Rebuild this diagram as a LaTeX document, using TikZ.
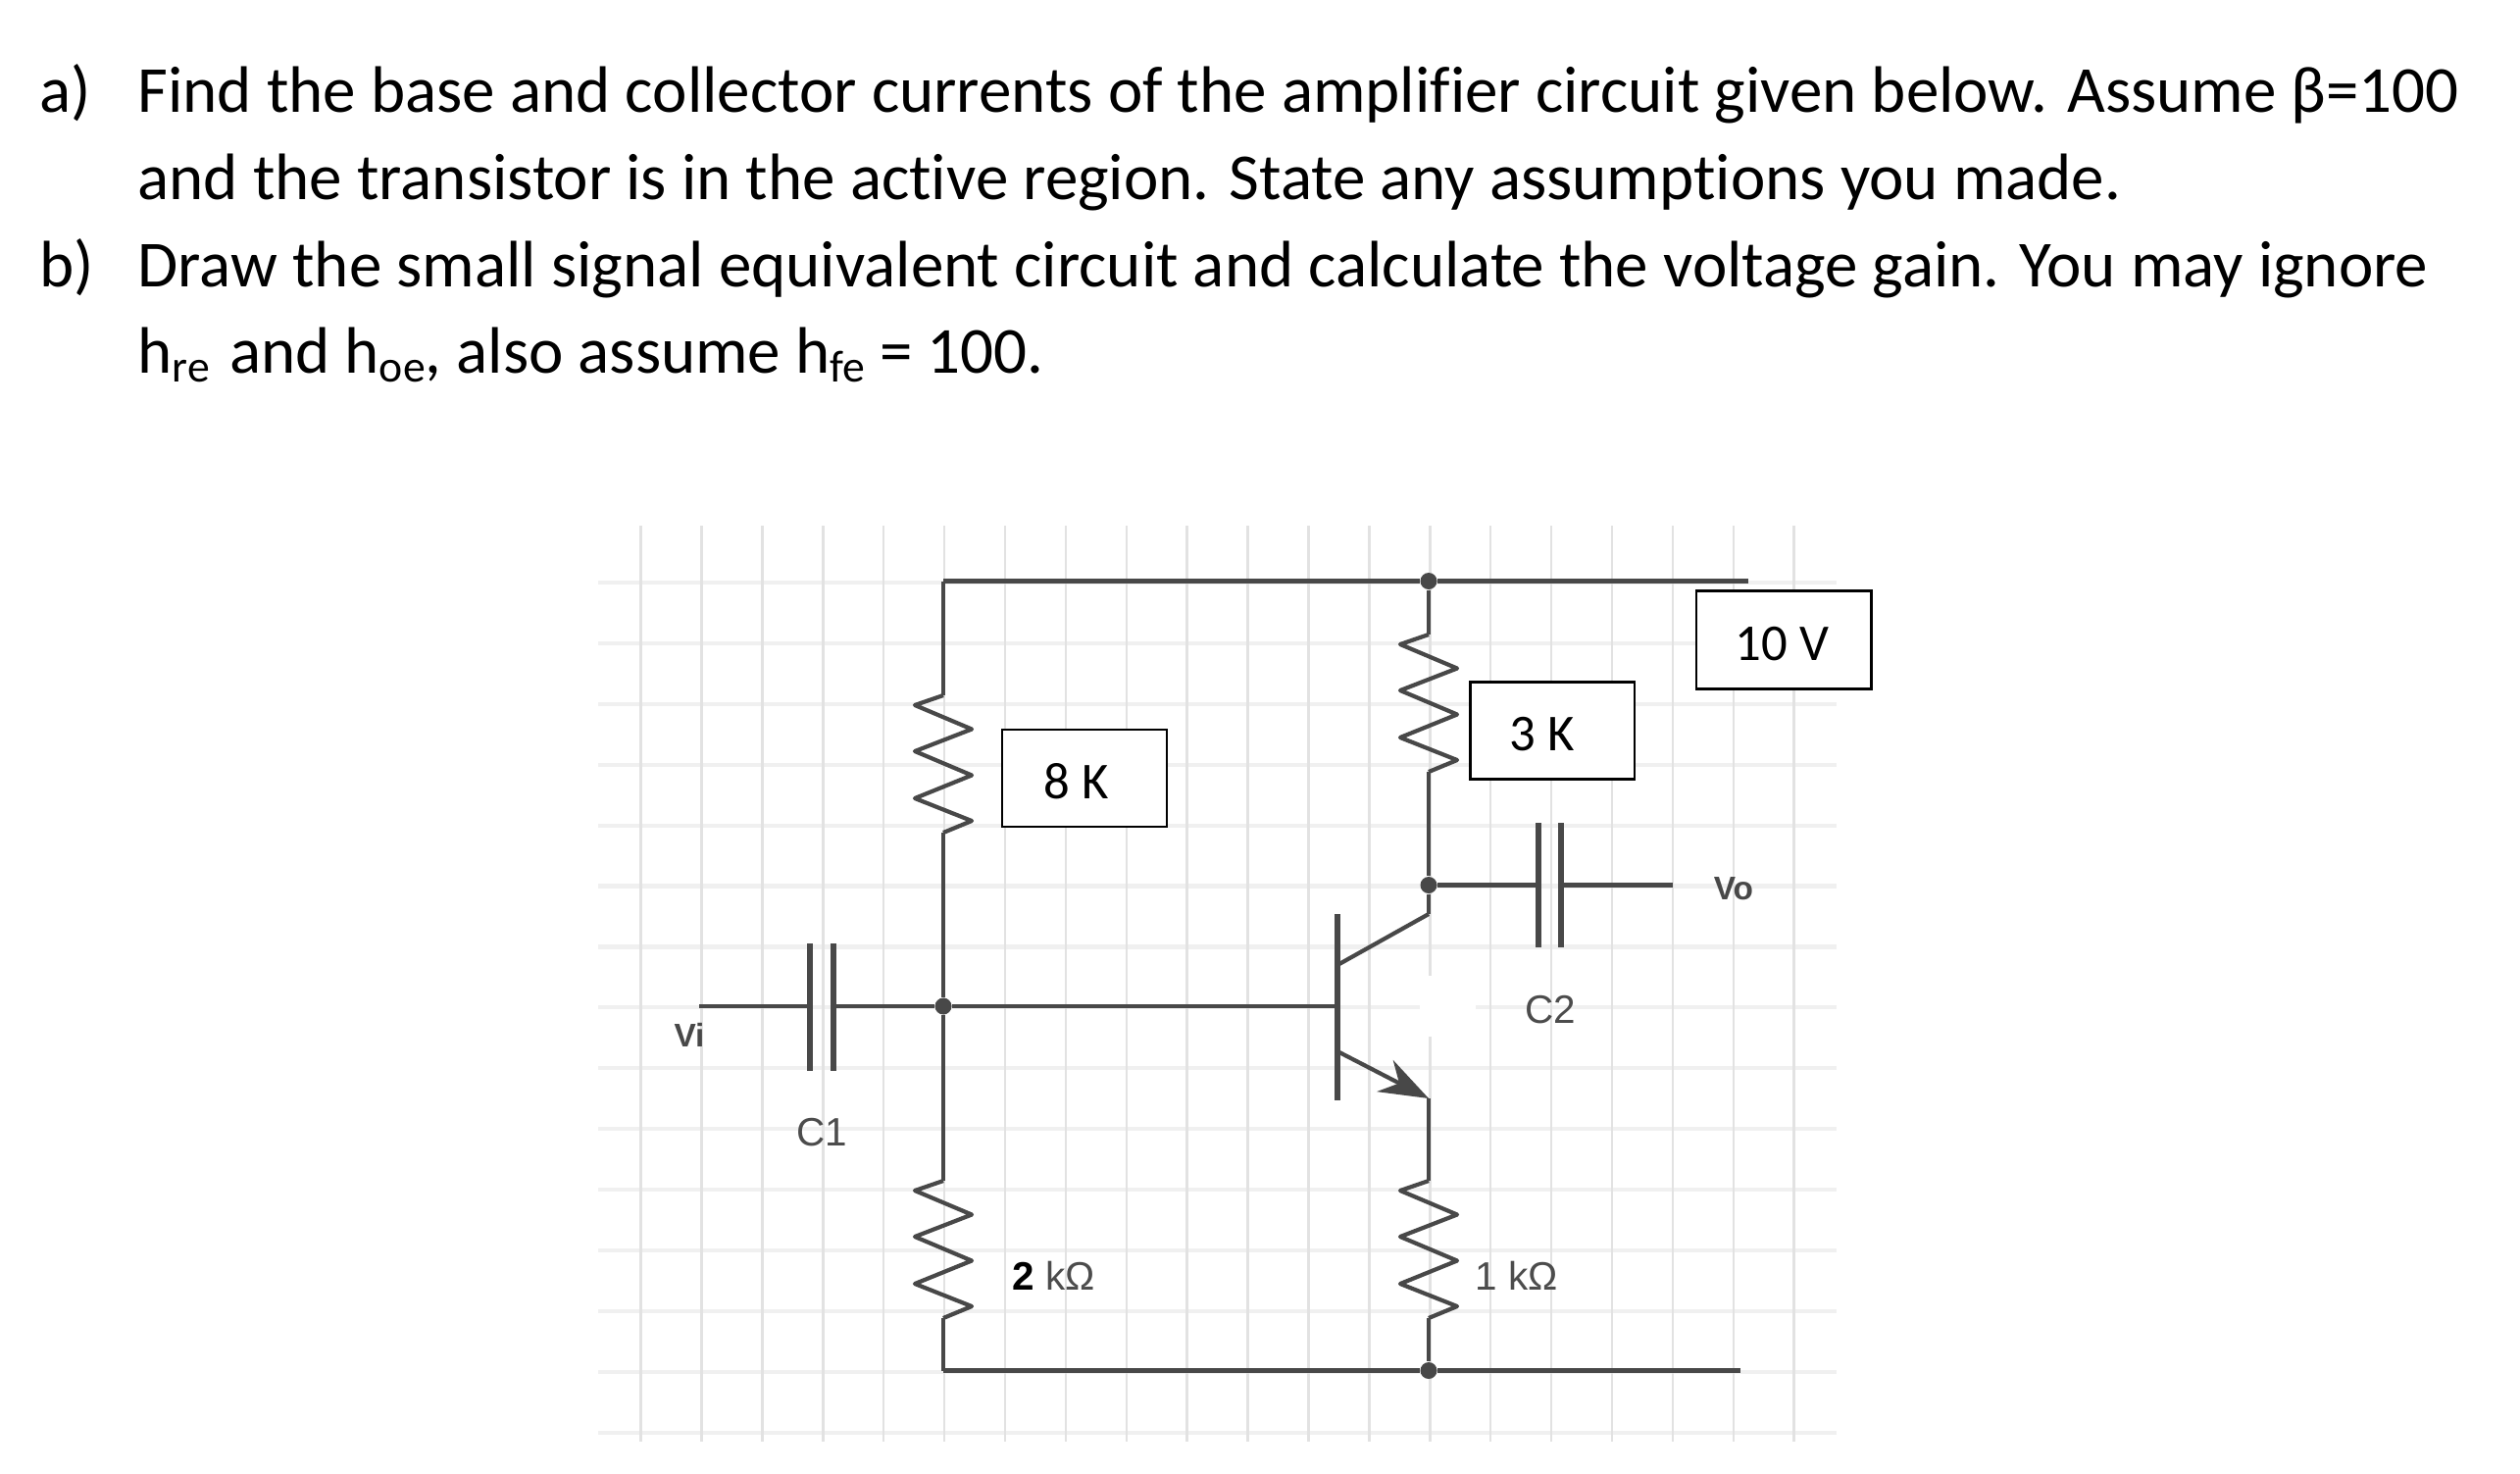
\documentclass[tikz,border=0pt]{standalone}
\usepackage{fontspec}
\setmainfont{Carlito}[Ligatures=NoCommon]
\newfontfamily\labelfont{Liberation Sans}
\usetikzlibrary{arrows.meta}
\definecolor{wirecol}{HTML}{484848}
\definecolor{labelcol}{HTML}{4C4C4C}
\definecolor{gridh}{HTML}{F0F0F0}
\definecolor{gridv}{HTML}{E2E2E2}
\newcommand{\qfont}{\fontsize{19.05pt}{23pt}\selectfont}
\newcommand{\hsub}[1]{\raisebox{-0.3ex}{\fontsize{13pt}{14pt}\selectfont #1}}
\tikzset{
  wire/.style={draw=wirecol, line width=1.2pt, line join=round},
  plate/.style={draw=wirecol, line width=1.5pt},
  dotnode/.style={circle, fill=wirecol, minimum size=1.7mm},
  qline/.style={anchor=base west, font=\qfont},
  valbox/.style={draw=black, fill=white, line width=0.7pt, text height=0.41cm, text depth=0pt, font=\fontsize{15pt}{18pt}\selectfont},
  partlabel/.style={text=labelcol, font=\labelfont\fontsize{11.5pt}{14pt}\selectfont},
  portlabel/.style={text=wirecol, font=\labelfont\bfseries\fontsize{9.5pt}{12pt}\selectfont},
  resistor/.pic={
    \draw[wire] (0,0) -- (-29,10) -- (29,34.5) -- (-29,57) -- (29,81.5)
      -- (-29,105) -- (29,128) -- (0,140);
    \coordinate (-top) at (0,0);
    \coordinate (-bot) at (0,140);
  }
}
\begin{document}
\begin{tikzpicture}[
    x=0.01cm, y=-0.01cm,
    every node/.style={inner sep=0pt}
]
\useasboundingbox (0,0) rectangle (2570,1502);

% grid
\foreach \k in {0,...,14} {
  \draw[gridh, line width=1.2pt] (610,594+61.9*\k) -- (1873,594+61.9*\k);
}
\foreach \k in {0,...,19} {
  \draw[gridv, line width=0.7pt] (653.6+61.9*\k,536) -- (653.6+61.9*\k,1470);
}
\fill[white] (1448,995) rectangle (1505,1057);

% question text
\node[qline] (qa) at (40,114) {a)};
\node[qline] (qa1) at (140,114) {Find the base and collector currents of the amplifier circuit given below. Assume β=100};
\node[qline] (qa2) at (140,203) {and the transistor is in the active region. State any assumptions you made.};
\node[qline] (qb) at (40,292) {b)};
\node[qline] (qb1) at (140,292) {Draw the small signal equivalent circuit and calculate the voltage gain. You may ignore};
\node[qline] (qb2) at (140,380) {h\hsub{re}\kern0.05cm\ and h\hsub{oe}, also assume h\hsub{fe} = 100.};

% junctions and free ends
\node[dotnode] (jtop) at (1457,592.5) {};
\node[dotnode] (jout) at (1457,902.5) {};
\node[dotnode] (jbase) at (962,1026) {};
\node[dotnode] (jbot) at (1457,1397.5) {};
\coordinate (railtl) at (962,592.5);
\coordinate (railtr) at (1783,592.5);
\coordinate (railbl) at (962,1397.5);
\coordinate (railbr) at (1775,1397.5);
\coordinate (vin) at (713,1026);
\coordinate (vout) at (1706,902.5);

% resistors
\pic (rone) at (962,709) {resistor};
\pic (rtwo) at (962,1204) {resistor};
\pic (rthree) at (1457,647) {resistor};
\pic (rfour) at (1457,1204) {resistor};

% capacitors
\coordinate (conea) at (826,1026);
\coordinate (coneb) at (850,1026);
\coordinate (ctwoa) at (1569,902.5);
\coordinate (ctwob) at (1592,902.5);
\draw[plate] (826,962) -- (conea) -- (826,1092);
\draw[plate] (850,962) -- (coneb) -- (850,1092);
\draw[plate] (1569,839) -- (ctwoa) -- (1569,966);
\draw[plate] (1592,839) -- (ctwob) -- (1592,966);

% transistor
\coordinate (bartop) at (1364,932);
\coordinate (barbot) at (1364,1122);
\coordinate (bbase) at (1364,1026);
\coordinate (bcol) at (1364,984);
\coordinate (bemit) at (1364,1072);
\coordinate (colend) at (1457,932);
\coordinate (emend) at (1457,1120);
\draw[plate] (bartop) -- (barbot);
\draw[wire] (bcol) -- (colend);
\draw[wire, -{Stealth[length=5mm,width=3.6mm]}] (bemit) -- (emend);

% wiring
\draw[wire] (railtl) -- (jtop) -- (railtr);
\draw[wire] (railbl) -- (jbot) -- (railbr);
\draw[wire] (railtl) -- (rone-top);
\draw[wire] (rone-bot) -- (jbase) -- (rtwo-top);
\draw[wire] (rtwo-bot) -- (railbl);
\draw[wire] (jtop) -- (rthree-top);
\draw[wire] (rthree-bot) -- (jout) -- (colend);
\draw[wire] (emend) -- (rfour-top);
\draw[wire] (rfour-bot) -- (jbot);
\draw[wire] (vin) -- (conea);
\draw[wire] (coneb) -- (jbase) -- (bbase);
\draw[wire] (jout) -- (ctwoa);
\draw[wire] (ctwob) -- (vout);

% values
\node[valbox, minimum width=168.5*0.01cm, minimum height=99*0.01cm] (beight) at (1106,793.5) {8 K\kern0.16cm};
\node[valbox, minimum width=167.5*0.01cm, minimum height=99*0.01cm] (bthree) at (1583,745) {3 K\kern0.2cm};
\node[valbox, minimum width=178.5*0.01cm, minimum height=100*0.01cm] (bten) at (1819,652.5) {10 V\kern0.03cm};
\node[partlabel] (lone) at (838,1155) {C1};
\node[partlabel] (ltwo) at (1581,1030) {C2};
\node[partlabel] (lrtwo) at (1075,1301) {{\color{black}\bfseries 2} kΩ};
\node[partlabel] (lrfour) at (1547,1301) {1 kΩ};
\node[portlabel] (lvi) at (703,1055) {Vi};
\node[portlabel] (lvo) at (1768,906) {Vo};
\end{tikzpicture}
\end{document}
